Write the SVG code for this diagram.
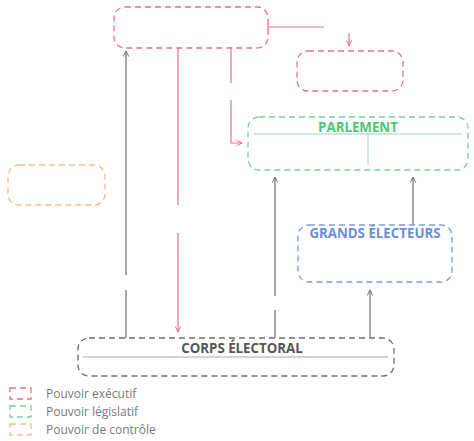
<svg xmlns="http://www.w3.org/2000/svg" width="474" height="441" viewBox="0 0 474 441">
<defs>
<style>
.box{fill:none;stroke-width:1.3;stroke-dasharray:6 4}
.red{stroke:#e8708a}
.green{stroke:#7ccf9c}
.orange{stroke:#f3bc8e}
.blue{stroke:#7f9be0}
.gray{stroke:#6f6f6f}
.ln{fill:none;stroke-width:1.2}
.t{font-family:"Open Sans","DejaVu Sans",sans-serif;font-weight:bold;font-size:13.3px;text-anchor:middle}
.lg{font-family:"Open Sans","DejaVu Sans",sans-serif;font-size:12px;fill:#7a7a7a}
</style>
<marker id="arr" viewBox="0 0 10 10" refX="9" refY="5" markerWidth="7" markerHeight="7" orient="auto" markerUnits="userSpaceOnUse">
<path d="M1,1 L9,5 L1,9" fill="none" stroke="#e8708a" stroke-width="1.4"/>
</marker>
<marker id="arg" viewBox="0 0 10 10" refX="9" refY="5" markerWidth="7" markerHeight="7" orient="auto" markerUnits="userSpaceOnUse">
<path d="M1,1 L9,5 L1,9" fill="none" stroke="#6f6f6f" stroke-width="1.4"/>
</marker>
<marker id="bar" viewBox="0 0 10 10" refX="1" refY="5" markerWidth="8" markerHeight="8" orient="auto" markerUnits="userSpaceOnUse">
<path d="M1,1 L1,9" fill="none" stroke="#e8708a" stroke-width="1.4"/>
</marker>
</defs>
<rect width="474" height="441" fill="#fff"/>

<g id="connectors">
<path class="ln red" d="M268,27 H324" marker-start="url(#bar)"/>
<path class="ln red" d="M349,33 V46" marker-end="url(#arr)"/>
<path class="ln red" d="M231,48 V83"/>
<path class="ln red" d="M231,100 V143 H242" marker-end="url(#arr)"/>
<path class="ln red" d="M178,48 V205"/>
<path class="ln red" d="M178,233 V332" marker-end="url(#arr)"/>
<path class="ln gray" d="M126,338 V290"/>
<path class="ln gray" d="M126,275 V51" marker-end="url(#arg)"/>
<path class="ln gray" d="M275,338 V310"/>
<path class="ln gray" d="M275,296 V177" marker-end="url(#arg)"/>
<path class="ln gray" d="M370,338 V290" marker-end="url(#arg)"/>
<path class="ln gray" d="M413,225 V177" marker-end="url(#arg)"/>
</g>

<g id="executif-top">
<rect class="box red" x="114" y="7" width="154" height="41" rx="11"/>
</g>
<g id="executif-second">
<rect class="box red" x="297" y="51" width="106" height="40" rx="11"/>
</g>
<g id="parlement">
<rect class="box green" x="248" y="117" width="220" height="53" rx="11"/>
<text class="t" x="358" y="132" fill="#4cc67a">PARLEMENT</text>
<path d="M253,134 H462 M368,134 V165" fill="none" stroke="#9ad8b2" stroke-width="1"/>
</g>
<g id="controle">
<rect class="box orange" x="8" y="165" width="97" height="40" rx="11"/>
</g>
<g id="grands-electeurs">
<rect class="box blue" x="298" y="225" width="154" height="57" rx="11"/>
<text class="t" x="375" y="238" fill="#6b8fdc">GRANDS ÉLECTEURS</text>
</g>
<g id="corps-electoral">
<rect class="box gray" x="78" y="338" width="316" height="38" rx="11"/>
<text class="t" x="242" y="353" fill="#555">CORPS ÉLECTORAL</text>
<path d="M83,357 H388" fill="none" stroke="#aaa" stroke-width="1"/>
</g>

<g id="legend">
<rect class="box red" x="10" y="388" width="21" height="11" stroke-dasharray="5 4" stroke-width="1"/>
<text class="lg" x="46" y="398">Pouvoir exécutif</text>
<rect class="box green" x="10" y="406" width="21" height="11" stroke-dasharray="5 4" stroke-width="1"/>
<text class="lg" x="46" y="416">Pouvoir législatif</text>
<rect class="box orange" x="10" y="424" width="21" height="11" stroke-dasharray="5 4" stroke-width="1"/>
<text class="lg" x="46" y="434">Pouvoir de contrôle</text>
</g>
</svg>
